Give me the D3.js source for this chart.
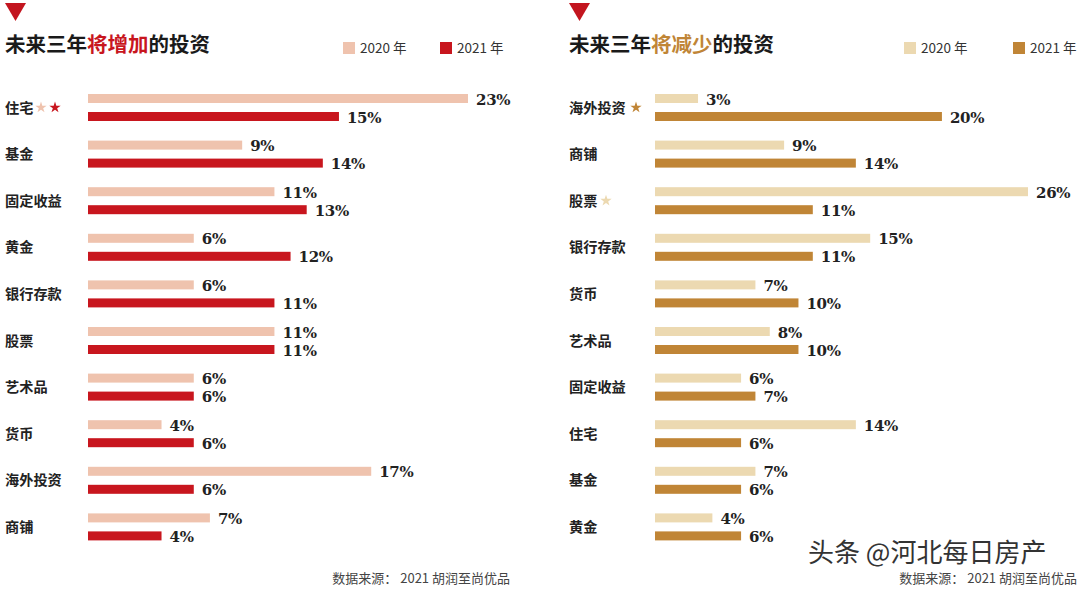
<!DOCTYPE html>
<html>
<head>
<meta charset="utf-8">
<script src="https://cdn.jsdelivr.net/npm/d3@7"></script>
<style>
  body { margin: 0; background: #fff; }
  svg { display: block; }
</style>
</head>
<body>
<svg id="chart" width="1080" height="589"></svg>
<script>
// 将增加的投资
var incCategories = ["住宅", "基金", "固定收益", "黄金", "银行存款", "股票", "艺术品", "货币", "海外投资", "商铺"];
var inc2020 = [23, 9, 11, 6, 6, 11, 6, 4, 17, 7];
var inc2021 = [15, 14, 13, 12, 11, 11, 6, 6, 6, 4];

// 将减少的投资
var decCategories = ["海外投资", "商铺", "股票", "银行存款", "货币", "艺术品", "固定收益", "住宅", "基金", "黄金"];
var dec2020 = [3, 9, 26, 15, 7, 8, 6, 14, 7, 4];
var dec2021 = [20, 14, 11, 11, 10, 10, 7, 6, 6, 6];

var years = ["2020", "2021"];
var legendLabels = ["2020 年", "2021 年"];

// stars next to category names: [category, series index]
var incStars = [["住宅", 0], ["住宅", 1]];
var decStars = [["海外投资", 1], ["股票", 0]];

var svg = d3.select("#chart");

function drawPanel(opt) {
  var g = svg.append("g").attr("transform", `translate(${opt.x},0)`);

  // triangle marker
  g.append("path")
    .attr("d", "M0,3 L21,3 L10.5,21 Z")
    .attr("fill", "#c3151f");

  // title
  var title = g.append("text")
    .attr("x", 0)
    .attr("y", 52)
    .style("font-family", "'Noto Sans CJK SC', sans-serif")
    .style("font-weight", 700)
    .style("font-size", "20.5px")
    .attr("fill", "#1a1a1a");
  title.append("tspan").text("未来三年");
  title.append("tspan").text(opt.titleKey).attr("fill", opt.colors[1]);
  title.append("tspan").text("的投资");

  // legend
  var lg = g.selectAll(".lg")
    .data(legendLabels)
    .join("g")
    .attr("transform", (d, i) => `translate(${opt.legendX[i]},42)`);
  lg.append("rect")
    .attr("width", 12).attr("height", 12)
    .attr("fill", (d, i) => opt.colors[i]);
  lg.append("text")
    .attr("x", 17).attr("y", 11)
    .style("font-family", "'Noto Sans CJK SC', sans-serif")
    .style("font-size", "13.5px")
    .attr("fill", "#333")
    .text(d => d);

  var rows = opt.categories.map((c, i) => ({ cat: c, vals: [opt.s2020[i], opt.s2021[i]] }));

  var y = d3.scaleBand().domain(opt.categories).range([84.2, 84.2 + 466]);
  var ySub = d3.scaleBand().domain(years).range([-13.5, 13.5]).paddingInner(0.5);
  var x = d3.scaleLinear().domain([0, opt.maxVal]).range([opt.minLen, opt.maxLen]);

  var row = g.selectAll(".row")
    .data(rows)
    .join("g")
    .attr("transform", d => `translate(0,${y(d.cat) + y.bandwidth() / 2})`);

  row.append("text")
    .attr("x", 0)
    .attr("y", 0)
    .attr("dy", "0.36em")
    .style("font-family", "'Noto Sans CJK SC', sans-serif")
    .style("font-weight", 700)
    .style("font-size", "14.2px")
    .attr("fill", "#222")
    .text(d => d.cat);

  var bars = row.selectAll(".bar")
    .data(d => d.vals.map((v, i) => ({ v: v, yr: years[i], i: i })))
    .join("g");

  bars.append("rect")
    .attr("x", opt.barX)
    .attr("y", d => ySub(d.yr))
    .attr("width", d => x(d.v))
    .attr("height", ySub.bandwidth())
    .attr("fill", d => opt.colors[d.i]);

  bars.append("text")
    .attr("x", d => opt.barX + x(d.v) + 8)
    .attr("y", d => ySub(d.yr) + ySub.bandwidth() / 2)
    .attr("dy", "0.4em")
    .style("font-family", "'DejaVu Serif', serif")
    .style("font-weight", 700)
    .style("font-size", "15px")
    .style("letter-spacing", "-0.3px")
    .attr("fill", "#222")
    .text(d => d.v + "%");

  // stars
  var star = d3.symbol().type(d3.symbolStar).size(40);
  g.selectAll(".star")
    .data(opt.stars)
    .join("path")
    .attr("d", star)
    .attr("fill", d => opt.colors[d[1]])
    .attr("transform", d => {
      var idx = opt.stars.filter(s => s[0] == d[0]).indexOf(d);
      var sx = opt.starX[d[0]] + idx * 14;
      return `translate(${sx},${y(d[0]) + y.bandwidth() / 2})`;
    });

  // source
  g.append("text")
    .attr("x", opt.sourceX)
    .attr("y", 583)
    .attr("text-anchor", "end")
    .style("font-family", "'Noto Sans CJK SC', sans-serif")
    .style("font-size", "13px")
    .attr("fill", "#444")
    .text("数据来源： 2021 胡润至尚优品");
}

drawPanel({
  x: 5,
  titleKey: "将增加",
  categories: incCategories,
  s2020: inc2020,
  s2021: inc2021,
  colors: ["#efc3ae", "#c8161e"],
  legendX: [338, 435],
  barX: 83,
  minLen: 9,
  maxVal: 23,
  maxLen: 380,
  stars: incStars,
  starX: { "住宅": 36 },
  sourceX: 505
});

drawPanel({
  x: 569,
  titleKey: "将减少",
  categories: decCategories,
  s2020: dec2020,
  s2021: dec2021,
  colors: ["#ecd9b1", "#c08536"],
  legendX: [335, 444],
  barX: 86,
  minLen: 0,
  maxVal: 26,
  maxLen: 373,
  stars: decStars,
  starX: { "海外投资": 67, "股票": 37 },
  sourceX: 508
});

// watermark
svg.append("text")
  .attr("x", 808)
  .attr("y", 562)
  .style("font-family", "'Noto Sans CJK SC', sans-serif")
  .style("font-size", "26px")
  .attr("fill", "#333")
  .attr("stroke", "#fff")
  .attr("stroke-width", 3)
  .style("paint-order", "stroke")
  .text("头条 @河北每日房产");
</script>
</body>
</html>
